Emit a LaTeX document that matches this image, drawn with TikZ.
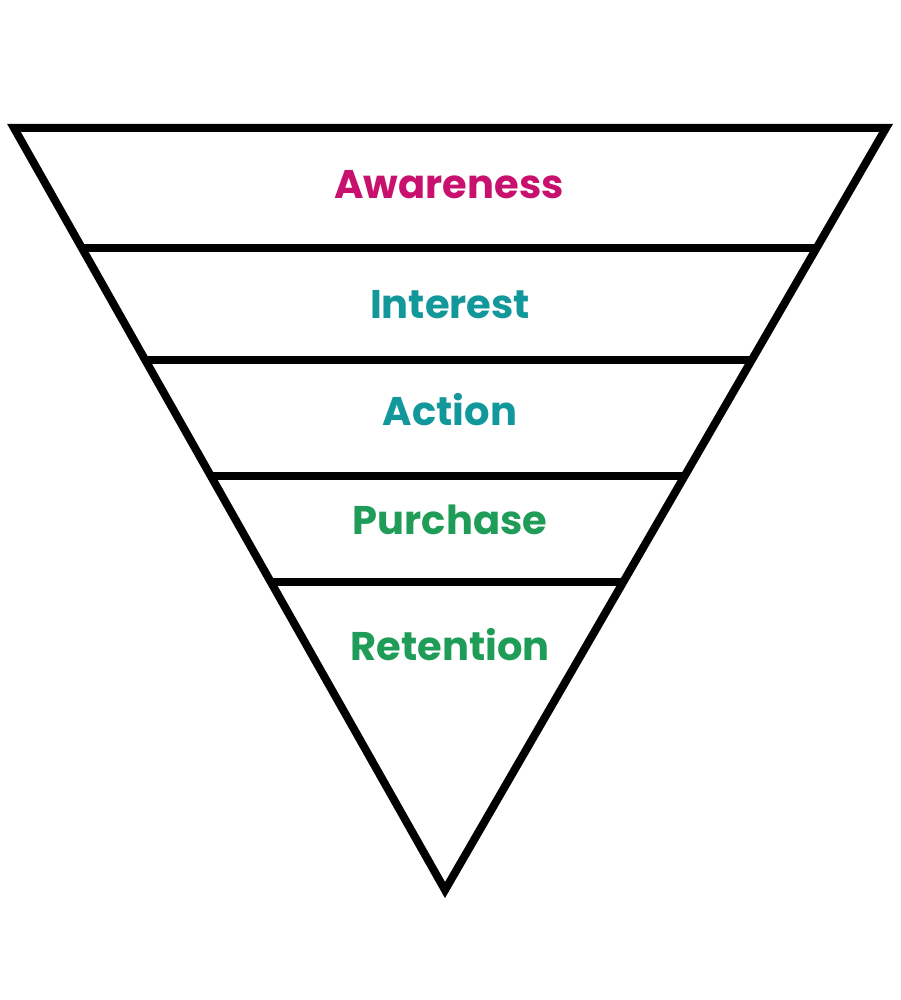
\documentclass[tikz,border=0pt]{standalone}
\usepackage{fontspec}
\setmainfont{Poppins}
\usetikzlibrary{calc}
\definecolor{mag}{HTML}{C8106E}
\definecolor{teal2}{HTML}{12989A}
\definecolor{grn}{HTML}{1E9C58}
\begin{document}
\begin{tikzpicture}[x=1pt,y=-1pt,
  lab/.style={font=\bfseries\fontsize{40}{44}\selectfont, anchor=center}]
\useasboundingbox (0,0) rectangle (900,1000);
\fill[white] (0,0) rectangle (900,1000);
\coordinate (TL) at (14,128);
\coordinate (TR) at (886,128);
\coordinate (B) at (445,890);
\draw[line width=8pt, line join=miter] (TL) -- (TR) -- (B) -- cycle;
\foreach \y in {248,360,476,582}{
  \draw[line width=8pt] ($(TL)!{(\y-128)/762}!(B)$) -- ($(TR)!{(\y-128)/762}!(B)$);
}
\node[lab, text=mag] (a) at (449,185) {Awareness};
\node[lab, text=teal2] (i) at (450,305) {Interest};
\node[lab, text=teal2] (c) at (450,410) {Action};
\node[lab, text=grn] (p) at (450,520) {Purchase};
\node[lab, text=grn] (r) at (450,645) {Retention};
\end{tikzpicture}
\end{document}
